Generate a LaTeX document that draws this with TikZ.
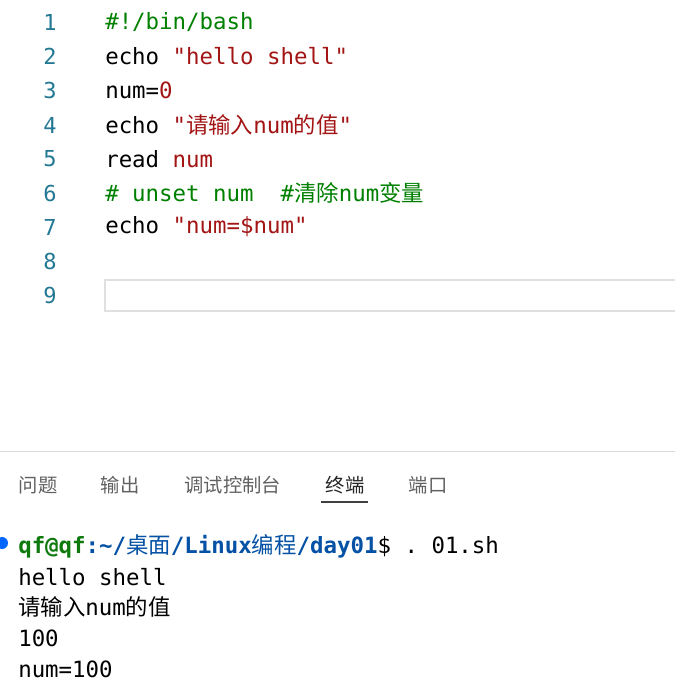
\documentclass[tikz,border=0pt]{standalone}
\usepackage{fontspec}
\setmonofont{DejaVu Sans Mono}
\newfontfamily\cjk{Noto Sans CJK SC}
\newfontfamily\cjkl{Noto Sans CJK SC}[UprightFeatures={FakeBold=0}]
\definecolor{kw}{HTML}{008000}
\definecolor{str}{HTML}{A31515}
\definecolor{lnum}{HTML}{237893}
\definecolor{pgreen}{HTML}{0E7A0D}
\definecolor{pblue}{HTML}{0451A5}
\definecolor{tabc}{HTML}{616161}
\newcommand{\zh}[1]{{\cjk #1}}
\begin{document}
\begin{tikzpicture}[x=0.75pt,y=-0.75pt,
  code/.style={anchor=west,inner sep=0,font=\ttfamily\fontsize{16.8}{18}\selectfont},
  ln/.style={anchor=center,inner sep=0,text=lnum,font=\ttfamily\fontsize{16.5}{18}\selectfont},
  tabl/.style={anchor=center,inner sep=0,text=tabc,font=\cjk\fontsize{14.5}{16}\selectfont},
  term/.style={anchor=west,inner sep=0,font=\ttfamily\fontsize{16.8}{18}\selectfont}]
\fill[white] (0,0) rectangle (675,687);
\useasboundingbox (0,0) rectangle (675,687);
\draw[black!12,line width=1.5pt] (105,280) rectangle (680,311);
\foreach \i/\y in {1/22,2/56,3/90,4/125,5/159,6/193,7/227,8/261,9/295}
  \node[ln] (l\i) at (50,\y) {\i};
\node[code,text=kw] (c1) at (105,22) {\#!/bin/bash};
\node[code] (c2) at (105,56) {echo \textcolor{str}{"hello shell"}};
\node[code] (c3) at (105,90) {num=\textcolor{str}{0}};
\node[code] (c4) at (105,125) {echo \textcolor{str}{"\zh{请输入}num\zh{的值}"}};
\node[code] (c5) at (105,159) {read \textcolor{str}{num}};
\node[code,text=kw] (c6) at (105,193) {\# unset num~~\#\zh{清除}num\zh{变量}};
\node[code] (c7) at (105,227) {echo \textcolor{str}{"num=\$num"}};
\draw[black!15] (0,451) -- (675,451);
\node[tabl] (t1) at (38,485) {问题};
\node[tabl] (t2) at (120,485) {输出};
\node[tabl] (t3) at (233,485) {调试控制台};
\node[tabl,text=black!85] (t4) at (345,485) {终端};
\node[tabl] (t5) at (428,485) {端口};
\draw[black!75,line width=1pt] (321,502) -- (368,502);
\fill[blue!60!cyan] (2,543) circle (6);
\node[term] (p1) at (18,546) {\textcolor{pgreen}{\textbf{qf@qf}}\textcolor{pblue}{\textbf{:\textasciitilde/}\zh{桌面}\textbf{/Linux}\zh{编程}\textbf{/day01}}\$ . 01.sh};
\node[term] (p2) at (18,577) {hello shell};
\node[term] (p3) at (18,607) {\zh{请输入}num\zh{的值}};
\node[term] (p4) at (18,638) {100};
\node[term] (p5) at (18,669) {num=100};
\end{tikzpicture}
\end{document}
